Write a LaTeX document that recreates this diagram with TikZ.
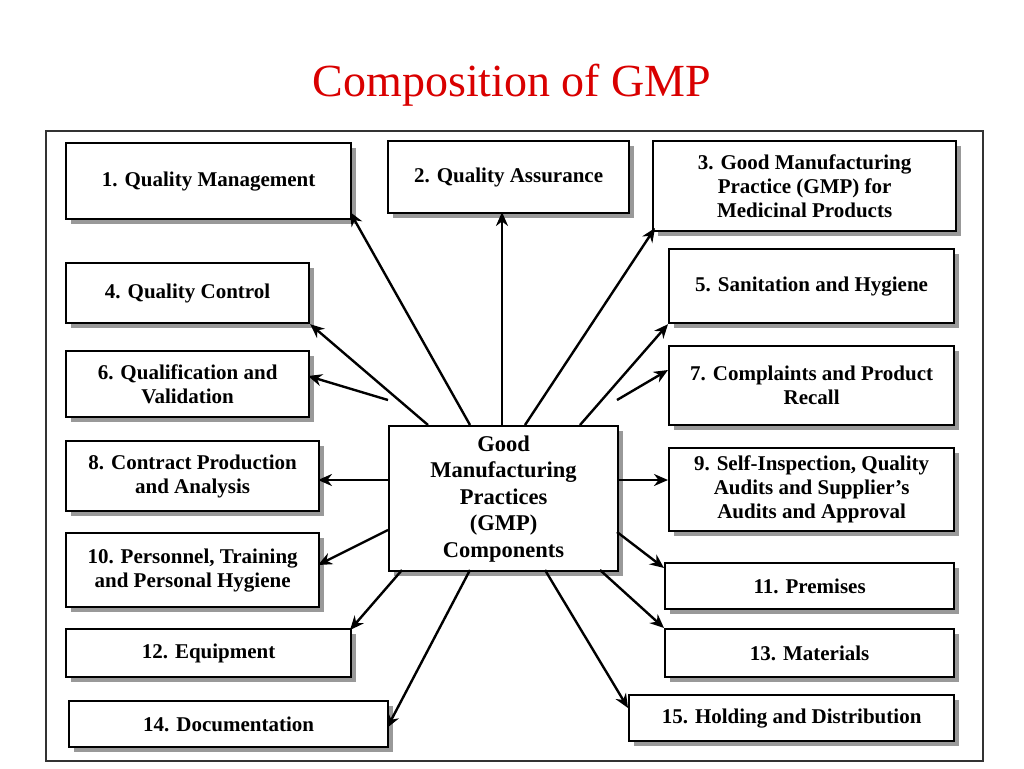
\documentclass[tikz,border=0pt]{standalone}
\usepackage{fontspec}
\setmainfont{Liberation Serif}
\usetikzlibrary{shadows,arrows.meta}
\begin{document}
\begin{tikzpicture}[x=1pt,y=-1pt,
 bx/.style={draw=black,line width=2.2pt,fill=white,inner sep=1pt,anchor=north west,align=center,
   font=\fontsize{21}{24}\selectfont\bfseries,
   drop shadow={shadow xshift=5pt,shadow yshift=-5pt,fill=gray!80,opacity=1}},
 arr/.style={line width=2.4pt,-{Stealth[length=14pt,width=12pt]}}]
\useasboundingbox (0,0) rectangle (1024,768);
\node[text=red!85!black,font=\fontsize{46}{52}\selectfont] (t) at (512,85) {Composition of GMP};
\node[draw=black!80,line width=1.5pt,minimum width=937,minimum height=630,anchor=north west] (frame) at (45,130) {};
\node[bx,minimum width=285,minimum height=76] (b1) at (65,142) {1. Quality Management};
\node[bx,minimum width=241,minimum height=72] (b2) at (387,140) {2. Quality Assurance};
\node[bx,minimum width=303,minimum height=90] (b3) at (652,140) {3. Good Manufacturing\\Practice (GMP) for\\Medicinal Products};
\node[bx,minimum width=243,minimum height=60] (b4) at (65,262) {4. Quality Control};
\node[bx,minimum width=285,minimum height=74] (b5) at (668,248) {5. Sanitation and Hygiene};
\node[bx,minimum width=243,minimum height=66] (b6) at (65,350) {6. Qualification and\\Validation};
\node[bx,minimum width=285,minimum height=79] (b7) at (668,345) {7. Complaints and Product\\Recall};
\node[bx,minimum width=253,minimum height=70] (b8) at (65,440) {8. Contract Production\\and Analysis};
\node[bx,minimum width=285,minimum height=83] (b9) at (668,447) {9. Self-Inspection, Quality\\Audits and Supplier's\\Audits and Approval};
\node[bx,minimum width=253,minimum height=74] (b10) at (65,532) {10. Personnel, Training\\and Personal Hygiene};
\node[bx,minimum width=289,minimum height=46] (b11) at (664,562) {11. Premises};
\node[bx,minimum width=285,minimum height=48] (b12) at (65,628) {12. Equipment};
\node[bx,minimum width=289,minimum height=48] (b13) at (664,628) {13. Materials};
\node[bx,minimum width=319,minimum height=46] (b14) at (68,700) {14. Documentation};
\node[bx,minimum width=325,minimum height=46] (b15) at (628,694) {15. Holding and Distribution};
\node[bx,minimum width=229,minimum height=145,font=\fontsize{22.5}{26.5}\selectfont\bfseries] (c) at (388,425) {Good\\Manufacturing\\Practices\\(GMP)\\Components};
\coordinate (p1) at (470,425); \coordinate (q1) at (350,212);
\coordinate (p2) at (502,425); \coordinate (q2) at (502,212);
\coordinate (p3) at (525,425); \coordinate (q3) at (655,228);
\coordinate (p4) at (428,425);
\coordinate (p5) at (580,425);
\coordinate (p6) at (388,400); \coordinate (q6) at (308,376);
\coordinate (p7) at (617,400); \coordinate (q7) at (668,370);
\coordinate (p8) at (388,480); \coordinate (q8) at (318,480);
\coordinate (p9) at (617,480); \coordinate (q9) at (668,480);
\coordinate (p10) at (388,530); \coordinate (q10) at (318,565);
\coordinate (p11) at (617,532); \coordinate (q11) at (664,568);
\coordinate (p12) at (402,570); \coordinate (q12) at (350,630);
\coordinate (p13) at (600,570); \coordinate (q13) at (664,628);
\coordinate (p14) at (470,570); \coordinate (q14) at (387,728);
\coordinate (p15) at (545,570); \coordinate (q15) at (628,708);
\draw[arr] (p1) -- (q1);
\draw[arr] (p2) -- (q2);
\draw[arr] (p3) -- (q3);
\draw[arr] (p4) -- (b4.south east);
\draw[arr] (p5) -- (b5.south west);
\draw[arr] (p6) -- (q6);
\draw[arr] (p7) -- (q7);
\draw[arr] (p8) -- (q8);
\draw[arr] (p9) -- (q9);
\draw[arr] (p10) -- (q10);
\draw[arr] (p11) -- (q11);
\draw[arr] (p12) -- (q12);
\draw[arr] (p13) -- (q13);
\draw[arr] (p14) -- (q14);
\draw[arr] (p15) -- (q15);
\end{tikzpicture}
\end{document}
